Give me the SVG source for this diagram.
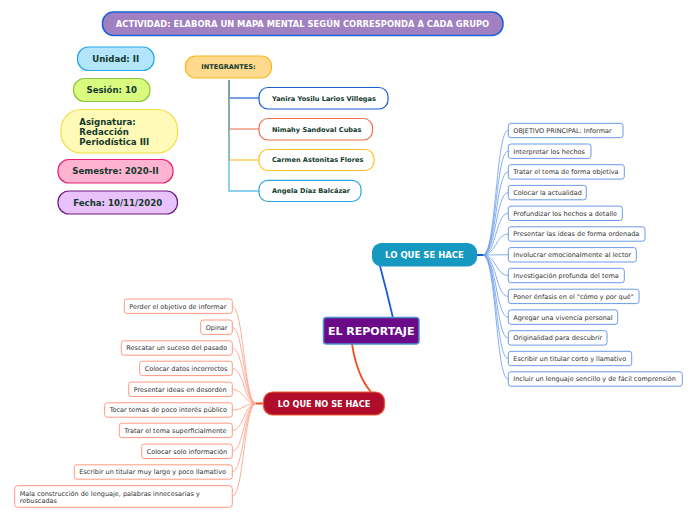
<svg xmlns="http://www.w3.org/2000/svg" width="696" height="520" viewBox="0 0 696 520">
<style>
text{font-family:"DejaVu Sans",Verdana,"Liberation Sans",sans-serif}
.info{font-size:8.6px;font-weight:bold;fill:#12392c}
.mem{font-size:6.6px;font-weight:bold;fill:#12392c}
.it{font-size:6.5px;fill:#333}
.rb{fill:#fff;stroke:#6a9ae8;stroke-width:1}
.lb{fill:#fff;stroke:#ff9a80;stroke-width:1}
.rc{fill:none;stroke:#6a9ae8;stroke-width:0.8}
.lc{fill:none;stroke:#ff9a80;stroke-width:0.8}
.wt{fill:#fff;font-weight:bold;text-anchor:middle}
</style>
<rect width="696" height="520" fill="#fff"/>
<g id="connectors">
<path d="M229,80 V98 H259" fill="none" stroke="#1a5fd0" stroke-width="1.5" stroke-opacity="0.8"/>
<path d="M229,80 V129 H259" fill="none" stroke="#f07050" stroke-width="1.5" stroke-opacity="0.7"/>
<path d="M229,80 V160 H259" fill="none" stroke="#ffb820" stroke-width="1.5" stroke-opacity="0.7"/>
<path d="M229,80 V191 H259" fill="none" stroke="#29a8e0" stroke-width="1.5" stroke-opacity="0.7"/>
<path d="M380,266 Q387,292 393,318" fill="none" stroke="#1a5fd0" stroke-width="1.8"/>
<path d="M352,344 Q357,376 371,392" fill="none" stroke="#f05020" stroke-width="1.8"/>
<path d="M476,255 H483" stroke="#1a5fd0" stroke-width="2"/>
<path d="M263,403.5 H256" stroke="#f05020" stroke-width="2"/>
<g id="right-links">
<path class="rc" d="M483,255 C496,255 496,130.5 508,130.5"/>
<path class="rc" d="M483,255 C496,255 496,151.2 508,151.2"/>
<path class="rc" d="M483,255 C496,255 496,171.9 508,171.9"/>
<path class="rc" d="M483,255 C496,255 496,192.6 508,192.6"/>
<path class="rc" d="M483,255 C496,255 496,213.3 508,213.3"/>
<path class="rc" d="M483,255 C496,255 496,234 508,234"/>
<path class="rc" d="M483,255 C496,255 496,254.8 508,254.8"/>
<path class="rc" d="M483,255 C496,255 496,275.5 508,275.5"/>
<path class="rc" d="M483,255 C496,255 496,296.4 508,296.4"/>
<path class="rc" d="M483,255 C496,255 496,317.1 508,317.1"/>
<path class="rc" d="M483,255 C496,255 496,337.9 508,337.9"/>
<path class="rc" d="M483,255 C496,255 496,358.5 508,358.5"/>
<path class="rc" d="M483,255 C496,255 496,379 508,379"/>
</g>
<g id="left-links">
<path class="lc" d="M256,403.5 C244,403.5 244,306.2 232,306.2"/>
<path class="lc" d="M256,403.5 C244,403.5 244,327.2 232,327.2"/>
<path class="lc" d="M256,403.5 C244,403.5 244,348 232,348"/>
<path class="lc" d="M256,403.5 C244,403.5 244,368.4 232,368.4"/>
<path class="lc" d="M256,403.5 C244,403.5 244,389.3 232,389.3"/>
<path class="lc" d="M256,403.5 C244,403.5 244,410 232,410"/>
<path class="lc" d="M256,403.5 C244,403.5 244,430.4 232,430.4"/>
<path class="lc" d="M256,403.5 C244,403.5 244,451.3 232,451.3"/>
<path class="lc" d="M256,403.5 C244,403.5 244,472 232,472"/>
<path class="lc" d="M256,403.5 C244,403.5 244,496.5 232,496.5"/>
</g>
</g>
<g id="title">
<rect x="102.5" y="12" width="400.5" height="23.5" rx="11" fill="#a080c0" stroke="#1a60d8" stroke-width="1.5"/>
<text class="wt" x="302.5" y="26.6" font-size="8.4">ACTIVIDAD: ELABORA UN MAPA MENTAL SEGÚN CORRESPONDA A CADA GRUPO</text>
</g>
<g id="unidad">
<rect x="77.5" y="47" width="76.5" height="23.5" rx="11" fill="#b3e5fc" stroke="#29a8e8" stroke-width="1.2"/>
<text class="info" x="115.7" y="61.8" text-anchor="middle">Unidad: II</text>
</g>
<g id="sesion">
<rect x="73.5" y="78.5" width="76.5" height="23" rx="11" fill="#d8fb80" stroke="#8cc63e" stroke-width="1.2"/>
<text class="info" x="111.7" y="93" text-anchor="middle">Sesión: 10</text>
</g>
<g id="asignatura">
<rect x="61" y="109.5" width="116.5" height="43.5" rx="20" fill="#fffab8" stroke="#f0e040" stroke-width="1.2"/>
<text class="info" x="79.3"><tspan x="79.3" y="124.7">Asignatura:</tspan><tspan x="79.3" y="134.7">Redacción</tspan><tspan x="79.3" y="144.5">Periodística III</tspan></text>
</g>
<g id="semestre">
<rect x="58" y="159.5" width="115" height="23.5" rx="11" fill="#ffb3d1" stroke="#e91e72" stroke-width="1.2"/>
<text class="info" x="115.5" y="174.3" text-anchor="middle">Semestre: 2020-II</text>
</g>
<g id="fecha">
<rect x="58" y="191" width="119.5" height="23" rx="11" fill="#eac2fb" stroke="#6a1b80" stroke-width="1.2"/>
<text class="info" x="117.7" y="205.6" text-anchor="middle">Fecha: 10/11/2020</text>
</g>
<g id="integrantes">
<rect x="185.5" y="56" width="86" height="22" rx="10" fill="#ffd98c" stroke="#f5b71a" stroke-width="1.2"/>
<text class="mem" x="228.5" y="69.4" text-anchor="middle">INTEGRANTES:</text>
</g>
<g id="m1">
<rect x="259" y="87.5" width="129" height="21.5" rx="9" fill="#fff" stroke="#1a5fd0" stroke-width="1.2"/>
<text class="mem" x="272" y="100.6">Yanira Yosilu Larios Villegas</text>
</g>
<g id="m2">
<rect x="259" y="118.5" width="113.5" height="21.5" rx="9" fill="#fff" stroke="#f07050" stroke-width="1.2"/>
<text class="mem" x="272" y="131.5">Nimahy Sandoval Cubas</text>
</g>
<g id="m3">
<rect x="259" y="149.5" width="115" height="21" rx="9" fill="#fff" stroke="#ffc020" stroke-width="1.2"/>
<text class="mem" x="272" y="162.3">Carmen Astonitas Flores</text>
</g>
<g id="m4">
<rect x="259" y="180.3" width="102" height="21.2" rx="9" fill="#fff" stroke="#29a8e0" stroke-width="1.2"/>
<text class="mem" x="272" y="193.1">Angela Díaz Balcázar</text>
</g>
<g id="central">
<rect x="323.5" y="317.5" width="95.5" height="26.5" rx="3" fill="#6a0a88" stroke="#4a90d0" stroke-width="1.5"/>
<text class="wt" x="371.2" y="335" font-size="11">EL REPORTAJE</text>
</g>
<g id="hace">
<rect x="372.5" y="243.5" width="104" height="22.5" rx="9" fill="#1599c0" stroke="#1a9ac8" stroke-width="1.2"/>
<text class="wt" x="424.5" y="258" font-size="8.5">LO QUE SE HACE</text>
</g>
<g id="nohace">
<rect x="263.5" y="392" width="121" height="23" rx="9" fill="#b00c2c" stroke="#f05a30" stroke-width="1.2"/>
<text class="wt" x="324" y="406.5" font-size="8.2">LO QUE NO SE HACE</text>
</g>
<g id="r1"><rect class="rb" x="508.3" y="123.3" width="114.7" height="14.4" rx="2.5"/><text class="it" x="513.3" y="132.9">OBJETIVO PRINCIPAL: Informar</text></g>
<g id="r2"><rect class="rb" x="508.3" y="144" width="82.7" height="14.4" rx="2.5"/><text class="it" x="513.3" y="153.6">Interpretar los hechos</text></g>
<g id="r3"><rect class="rb" x="508.3" y="164.7" width="116" height="14.4" rx="2.5"/><text class="it" x="513.3" y="174.3">Tratar el tema de forma objetiva</text></g>
<g id="r4"><rect class="rb" x="508.3" y="185.4" width="78" height="14.4" rx="2.5"/><text class="it" x="513.3" y="195">Colocar la actualidad</text></g>
<g id="r5"><rect class="rb" x="508.3" y="206.1" width="114" height="14.4" rx="2.5"/><text class="it" x="513.3" y="215.7">Profundizar los hechos a detalle</text></g>
<g id="r6"><rect class="rb" x="508.3" y="226.8" width="136.7" height="14.4" rx="2.5"/><text class="it" x="513.3" y="236.4">Presentar las ideas de forma ordenada</text></g>
<g id="r7"><rect class="rb" x="508.3" y="247.6" width="128" height="14.4" rx="2.5"/><text class="it" x="513.3" y="257.2">Involucrar emocionalmente al lector</text></g>
<g id="r8"><rect class="rb" x="508.3" y="268.3" width="116" height="14.4" rx="2.5"/><text class="it" x="513.3" y="277.9">Investigación profunda del tema</text></g>
<g id="r9"><rect class="rb" x="508.3" y="289.2" width="130.7" height="14.4" rx="2.5"/><text class="it" x="513.3" y="298.8">Poner énfasis en el "cómo y por qué"</text></g>
<g id="r10"><rect class="rb" x="508.3" y="309.9" width="109.4" height="14.4" rx="2.5"/><text class="it" x="513.3" y="319.5">Agregar una vivencia personal</text></g>
<g id="r11"><rect class="rb" x="508.3" y="330.7" width="98.7" height="14.4" rx="2.5"/><text class="it" x="513.3" y="340.3">Originalidad para descubrir</text></g>
<g id="r12"><rect class="rb" x="508.3" y="351.3" width="123.4" height="14.4" rx="2.5"/><text class="it" x="513.3" y="360.9">Escribir un titular corto y llamativo</text></g>
<g id="r13"><rect class="rb" x="508.3" y="371.8" width="174" height="14.4" rx="2.5"/><text class="it" x="513.3" y="381.4">Incluir un lenguaje sencillo y de fácil comprensión</text></g>
<g id="l1"><rect class="lb" x="124.3" y="299" width="108" height="14.4" rx="2.5"/><text class="it" x="129.3" y="308.6">Perder el objetivo de informar</text></g>
<g id="l2"><rect class="lb" x="200.7" y="320" width="31.6" height="14.4" rx="2.5"/><text class="it" x="205.7" y="329.6">Opinar</text></g>
<g id="l3"><rect class="lb" x="121.3" y="340.8" width="111" height="14.4" rx="2.5"/><text class="it" x="126.3" y="350.4">Rescatar un suceso del pasado</text></g>
<g id="l4"><rect class="lb" x="139.7" y="361.2" width="92.6" height="14.4" rx="2.5"/><text class="it" x="144.7" y="370.8">Colocar datos incorrectos</text></g>
<g id="l5"><rect class="lb" x="128.7" y="382.1" width="103.6" height="14.4" rx="2.5"/><text class="it" x="133.7" y="391.7">Presentar ideas en desorden</text></g>
<g id="l6"><rect class="lb" x="104.7" y="402.8" width="127.6" height="14.4" rx="2.5"/><text class="it" x="109.7" y="412.4">Tocar temas de poco interés público</text></g>
<g id="l7"><rect class="lb" x="119.3" y="423.2" width="113" height="14.4" rx="2.5"/><text class="it" x="124.3" y="432.8">Tratar el tema superficialmente</text></g>
<g id="l8"><rect class="lb" x="141.7" y="444.1" width="90.6" height="14.4" rx="2.5"/><text class="it" x="146.7" y="453.7">Colocar solo información</text></g>
<g id="l9"><rect class="lb" x="74.3" y="464.8" width="158" height="14.4" rx="2.5"/><text class="it" x="79.3" y="474.4">Escribir un titular muy largo y poco llamativo</text></g>
<g id="l10"><rect class="lb" x="14.7" y="485.7" width="217.6" height="21.6" rx="3"/><text class="it"><tspan x="19.7" y="495.6">Mala construcción de lenguaje, palabras innecesarias y</tspan><tspan x="19.7" y="503.1">rebuscadas</tspan></text></g>
</svg>
